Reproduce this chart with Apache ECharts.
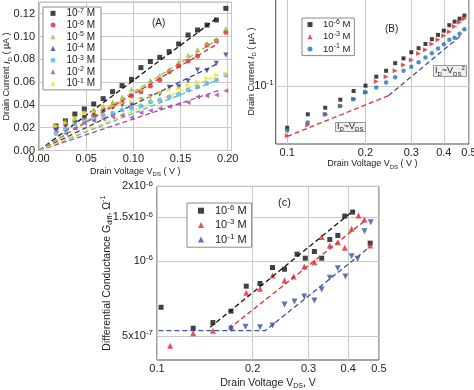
<!DOCTYPE html>
<html><head><meta charset="utf-8">
<script src="https://cdn.jsdelivr.net/npm/echarts@6/dist/echarts.min.js"></script>
<style>html,body{margin:0;padding:0;background:#fff}#c{width:474px;height:390px}</style>
</head><body><div id="c"></div>
<script>
// ---------------- Panel A data ----------------
const vdsA = [0.018,0.028,0.038,0.048,0.058,0.068,0.078,0.088,0.098,0.108,0.118,0.128,0.138,0.148,0.158,0.168,0.178,0.188,0.198];
const idA_1e7 = [0.0215,0.026,0.032,0.0364,0.0408,0.0455,0.0516,0.0569,0.0624,0.0727,0.078,0.0817,0.0867,0.0934,0.1013,0.1057,0.1100,0.1145,0.1247];
const idA_1e6 = [0.020,0.023,0.026,0.029,0.031,0.0355,0.0385,0.042,0.048,0.0516,0.0566,0.0618,0.069,0.0744,0.0785,0.083,0.0925,0.0963,0.1037];
const idA_1e5 = [0.0215,0.026,0.029,0.034,0.036,0.039,0.0428,0.047,0.0537,0.0537,0.0618,0.066,0.0712,0.078,0.0838,0.0887,0.094,0.0975,0.107];
const idA_1e4 = [0.018,0.0215,0.0244,0.029,0.0326,0.0355,0.038,0.040,0.040,0.0443,0.0472,0.0496,0.0554,0.056,0.061,0.0706,0.070,0.0765,0.0838];
const idA_1e3 = [0.015,0.0186,0.0232,0.0262,0.028,0.031,0.0326,0.0355,0.037,0.039,0.0428,0.0443,0.0472,0.0493,0.053,0.056,0.0589,0.0618,0.0662];
const idA_1e2 = [0.0175,0.015,0.0195,0.0238,0.026,0.0276,0.0297,0.031,0.029,0.0332,0.035,0.037,0.0385,0.0408,0.042,0.0472,0.0478,0.0487,0.0525];
const idA_1e1 = [0.0215,0.0238,0.0273,0.0326,0.034,0.0375,0.039,0.0414,0.0428,0.0449,0.0472,0.0507,0.053,0.0545,0.0575,0.0604,0.0633,0.0662,0.067];
const fitVA = [0, 0.19];
const fitA_1e7 = [0, 0.117];
const fitA_1e6 = [0, 0.094];
const fitA_1e5 = [0, 0.0975];
const fitA_1e4 = [0, 0.0765];
const fitA_1e3 = [0, 0.062];
const fitA_1e2 = [0, 0.0525];
const fitA_1e1 = [0, 0.066];

// ---------------- Panel B data ----------------
const vdsB = [0.10,0.12,0.14,0.16,0.18,0.20,0.22,0.24,0.26,0.28,0.30,0.32,0.34,0.36,0.38,0.40,0.42,0.44,0.46,0.48];
const idB_1e6 = [0.0404,0.0541,0.0624,0.0743,0.0897,0.1007,0.1224,0.139,0.164,0.182,0.208,0.227,0.249,0.276,0.303,0.332,0.374,0.404,0.431,0.461];
const idB_1e3 = [0.034,0.0429,0.0541,0.0648,0.0754,0.0872,0.110,0.122,0.139,0.158,0.176,0.202,0.220,0.249,0.272,0.298,0.325,0.363,0.399,0.429];
const idB_1e1 = [0.038,0.0454,0.0541,0.0648,0.075,0.0872,0.097,0.108,0.121,0.139,0.152,0.167,0.186,0.203,0.225,0.247,0.272,0.285,0.311,0.343];
const ohmV = [0.10, 0.245];
const ohmI = [0.0335, 0.081];
const sqV = [0.245, 0.47];
const sqI = [0.081, 0.305];
const xTicksB = [0.1, 0.2, 0.3, 0.4, 0.5];
const yTicksB = [0.1];

// ---------------- Panel C data ----------------
const vdsC_1e6 = [0.103,0.130,0.150,0.171,0.191,0.211,0.231,0.252,0.276,0.293,0.313,0.330,0.350,0.371,0.390,0.413,0.469];
const gC_1e6 = [6.52e-7,5.37e-7,5.66e-7,6.29e-7,7.93e-7,8.13e-7,9.43e-7,9.28e-7,1.067e-6,1.028e-6,1.094e-6,1.028e-6,1.223e-6,1.269e-6,1.519e-6,1.576e-6,1.182e-6];
const vdsC_1e3 = [0.110,0.130,0.150,0.171,0.191,0.211,0.231,0.252,0.269,0.291,0.313,0.330,0.350,0.371,0.390,0.410,0.431,0.450,0.469];
const gC_1e3 = [4.57e-7,5.13e-7,5.24e-7,5.45e-7,7.46e-7,7.74e-7,8.76e-7,8.36e-7,8.68e-7,9.52e-7,9.91e-7,1.25e-6,1.157e-6,1.193e-6,1.132e-6,1.351e-6,1.528e-6,1.472e-6,1.157e-6];
const vdsC_1e1 = [0.171,0.190,0.211,0.231,0.252,0.271,0.291,0.313,0.330,0.350,0.371,0.392,0.410,0.428,0.450,0.471];
const gC_1e1 = [5.34e-7,5.45e-7,5.42e-7,5.51e-7,6.69e-7,6.88e-7,7.21e-7,6.94e-7,7.69e-7,8.57e-7,9.37e-7,8.68e-7,1.047e-6,1.022e-6,1.321e-6,1.436e-6];
const fitVC_1e6 = [0.147, 0.416];
const fitGC_1e6 = [5.42e-7, 1.6e-6];
const fitVC_1e3 = [0.176, 0.453];
const fitGC_1e3 = [5.59e-7, 1.46e-6];
const fitVC_1e1 = [0.101, 0.219, 0.467];
const fitGC_1e1 = [5.25e-7, 5.25e-7, 1.14e-6];
const xTicksC = [0.1, 0.2, 0.3, 0.4, 0.5];
const yTicksC = [5e-7, 1e-6, 1.5e-6, 2e-6];
const yTickLabelsC = ['{n|5x10}{sup|-7}', '{n|10}{sup|-6}', '{n|1.5x10}{sup|-6}', '{n|2x10}{sup|-6}'];

// ---------------- helpers ----------------
const FONT = '"Liberation Sans", Arial, sans-serif';
const TXT = '#222';
function rich(fs, lh, gap) {
  lh = lh || Math.round(fs * 1.35);
  const s = Math.max(6, Math.round(fs * 0.7));
  return {
    n: {fontSize: fs, lineHeight: lh, fontFamily: FONT, color: TXT},
    it: {fontSize: fs, lineHeight: lh, fontFamily: FONT, fontStyle: 'italic', color: TXT},
    sup: {fontSize: s, lineHeight: lh, verticalAlign: 'top', fontFamily: FONT, color: TXT},
    sub: {fontSize: s, lineHeight: lh, verticalAlign: 'bottom', fontFamily: FONT, color: TXT},
    g: {width: gap || 0, lineHeight: lh, fontSize: fs}
  };
}
const zip = (xs, ys) => xs.map((x, i) => [x, ys[i]]);
const near = (arr, v) => arr.findIndex(t => Math.abs(v - t) <= Math.abs(t) * 1e-3 + 1e-12);
const concLabel = {
  '1e-7': '{n|10}{sup|-7}{n| M}', '1e-6': '{n|10}{sup|-6}{n| M}', '1e-5': '{n|10}{sup|-5}{n| M}',
  '1e-4': '{n|10}{sup|-4}{n| M}', '1e-3': '{n|10}{sup|-3}{n| M}', '1e-2': '{n|10}{sup|-2}{n| M}',
  '1e-1': '{n|10}{sup|-1}{n| M}'
};
const GRIDC = '#c9c9c9';
const FRAME = '#4a4a4a';

const colA = {'1e-7':'#111111','1e-6':'#e5262b','1e-5':'#8cc04a','1e-4':'#2c3a8c','1e-3':'#56b4e0','1e-2':'#a64ea6','1e-1':'#f0e31a'};
const symA = {'1e-7':['rect',0],'1e-6':['circle',0],'1e-5':['triangle',0],'1e-4':['triangle',180],'1e-3':['circle',0],'1e-2':['triangle',90],'1e-1':['triangle',-90]};
const dataA = {'1e-7':idA_1e7,'1e-6':idA_1e6,'1e-5':idA_1e5,'1e-4':idA_1e4,'1e-3':idA_1e3,'1e-2':idA_1e2,'1e-1':idA_1e1};
const fitA = {'1e-7':fitA_1e7,'1e-6':fitA_1e6,'1e-5':fitA_1e5,'1e-4':fitA_1e4,'1e-3':fitA_1e3,'1e-2':fitA_1e2,'1e-1':fitA_1e1};
const namesA = ['1e-7','1e-6','1e-5','1e-4','1e-3','1e-2','1e-1'];

const series = [];
namesA.forEach(k => {
  series.push({type:'line', name:'fitA'+k, xAxisIndex:0, yAxisIndex:0, data: zip(fitVA, fitA[k]),
    symbol:'none', silent:true, z:1, lineStyle:{color:colA[k], width:1.3, type:[5,3]}});
});
namesA.forEach(k => {
  series.push({type:'scatter', name:k, xAxisIndex:0, yAxisIndex:0, data: zip(vdsA, dataA[k]),
    symbol:symA[k][0], symbolRotate:symA[k][1], symbolSize:5, z:3, itemStyle:{color:colA[k]}});
});
// Panel B
series.push({type:'line', name:'ohm', xAxisIndex:1, yAxisIndex:1, data: zip(ohmV, ohmI), symbol:'none', silent:true,
  lineStyle:{color:'#e5313a', width:1.3, type:[5,3]}});
series.push({type:'line', name:'sq', xAxisIndex:1, yAxisIndex:1, data: zip(sqV, sqI), symbol:'none', silent:true,
  lineStyle:{color:'#3b4fa0', width:1.3, type:[5,3]}});
series.push({type:'scatter', name:'B1e-6', xAxisIndex:1, yAxisIndex:1, data: zip(vdsB, idB_1e6), symbol:'rect', symbolSize:4, itemStyle:{color:'#111'}});
series.push({type:'scatter', name:'B1e-3', xAxisIndex:1, yAxisIndex:1, data: zip(vdsB, idB_1e3), symbol:'triangle', symbolRotate:-90, symbolSize:5, itemStyle:{color:'#e5262b'}});
series.push({type:'scatter', name:'B1e-1', xAxisIndex:1, yAxisIndex:1, data: zip(vdsB, idB_1e1), symbol:'circle', symbolSize:4.5, itemStyle:{color:'#2474b0'}});
// Panel C
series.push({type:'line', name:'fc6', xAxisIndex:2, yAxisIndex:2, data: zip(fitVC_1e6, fitGC_1e6), symbol:'none', silent:true, lineStyle:{color:'#111', width:1.3, type:[5,3]}});
series.push({type:'line', name:'fc3', xAxisIndex:2, yAxisIndex:2, data: zip(fitVC_1e3, fitGC_1e3), symbol:'none', silent:true, lineStyle:{color:'#e5262b', width:1.3, type:[5,3]}});
series.push({type:'line', name:'fc1', xAxisIndex:2, yAxisIndex:2, data: zip(fitVC_1e1, fitGC_1e1), symbol:'none', silent:true, lineStyle:{color:'#3b4fa0', width:1.3, type:[5,3]}});
series.push({type:'scatter', name:'C1e-6', xAxisIndex:2, yAxisIndex:2, data: zip(vdsC_1e6, gC_1e6), symbol:'rect', symbolSize:5, itemStyle:{color:'#111'}});
series.push({type:'scatter', name:'C1e-3', xAxisIndex:2, yAxisIndex:2, data: zip(vdsC_1e3, gC_1e3), symbol:'triangle', symbolSize:6, itemStyle:{color:'#e5262b'}});
series.push({type:'scatter', name:'C1e-1', xAxisIndex:2, yAxisIndex:2, data: zip(vdsC_1e1, gC_1e1), symbol:'triangle', symbolRotate:180, symbolSize:6, itemStyle:{color:'#3b4fa0'}});

const tickLbl = (fs) => ({fontFamily: FONT, fontSize: fs, color: TXT});
const frameGrid = (o) => Object.assign({show:true, borderColor:FRAME, borderWidth:1, backgroundColor:'#fff',
  containLabel:false, outerBoundsMode:'none'}, o);
const legendBase = {orient:'vertical', itemGap:0, borderColor:'#8a8a8a', borderWidth:1, backgroundColor:'#fff',
  symbolRotate:'inherit', itemStyle:{borderWidth:0}};

const option = {
  animation: false,
  grid: [
    frameGrid({left:39, top:2.3, width:192.5, height:148.2}),
    frameGrid({left:275.7, top:-1, width:193.3, height:145}),
    frameGrid({left:157, top:186.4, width:222, height:173.6})
  ],
  xAxis: [
    {type:'value', gridIndex:0, min:0, max:0.204, interval:0.05,
     axisLine:{show:false}, axisTick:{show:false},
     axisLabel:Object.assign(tickLbl(11), {margin:3, showMaxLabel:false, formatter: v => v.toFixed(2)}),
     splitLine:{show:true, lineStyle:{color:GRIDC}},
     name:'{n|Drain Voltage V}{sub|DS}{n| ( V )}', nameLocation:'middle', nameGap:15, nameMoveOverlap:false,
     nameTextStyle:{rich: rich(9, 12)}},
    {type:'log', gridIndex:1, min:0.0903, max:0.5,
     axisLine:{show:false}, axisTick:{show:false, customValues:xTicksB},
     axisLabel:Object.assign(tickLbl(11), {margin:3, customValues:xTicksB, formatter: v => String(Math.round(v*10)/10)}),
     splitLine:{show:true, lineStyle:{color:GRIDC}},
     name:'{n|Drain Voltage V}{sub|DS}{n| ( V )}', nameLocation:'middle', nameGap:14, nameMoveOverlap:false,
     nameTextStyle:{rich: rich(9, 12)}},
    {type:'log', gridIndex:2, min:0.1, max:0.5,
     axisLine:{show:false}, axisTick:{show:false, customValues:xTicksC},
     axisLabel:Object.assign(tickLbl(11), {margin:3, customValues:xTicksC, formatter: v => String(Math.round(v*10)/10)}),
     splitLine:{show:true, lineStyle:{color:GRIDC}},
     name:'{n|Drain Voltage V}{sub|DS}{n|, V}', nameLocation:'middle', nameGap:16, nameMoveOverlap:false,
     nameTextStyle:{rich: rich(10.5, 14)}}
  ],
  yAxis: [
    {type:'value', gridIndex:0, min:0, max:0.13, interval:0.02,
     axisLine:{show:false}, axisTick:{show:false},
     axisLabel:Object.assign(tickLbl(11), {margin:4, showMaxLabel:false, formatter: v => v.toFixed(2)}),
     splitLine:{show:true, lineStyle:{color:GRIDC}},
     name:'{n|Drain Current }{it|I}{sub|D}{n| ( µA )}', nameLocation:'middle', nameGap:26, nameMoveOverlap:false,
     nameTextStyle:{rich: rich(9, 12)}},
    {type:'log', gridIndex:1, min:0.0284, max:0.66,
     axisLine:{show:false}, axisTick:{show:false, customValues:yTicksB},
     axisLabel:{fontFamily:FONT, fontSize:11, color:TXT, margin:2, customValues:yTicksB,
       formatter: v => '{n|10}{sup|-1}', rich: rich(11, 14)},
     splitLine:{show:true, lineStyle:{color:GRIDC}},
     name:'{n|Drain Current }{it|I}{sub|D}{n| ( µA )}', nameLocation:'middle', nameGap:18, nameMoveOverlap:false,
     nameTextStyle:{rich: rich(9, 12)}},
    {type:'log', gridIndex:2, min:4e-7, max:2e-6,
     axisLine:{show:false}, axisTick:{show:false, customValues:yTicksC},
     axisLabel:{fontFamily:FONT, fontSize:11, color:TXT, margin:4, customValues:yTicksC,
       formatter: v => { const i = near(yTicksC, v); return i >= 0 ? yTickLabelsC[i] : ''; }, rich: rich(11, 14)},
     splitLine:{show:true, lineStyle:{color:GRIDC}},
     name:'{n|Differential Conductance G}{sub|diff}{n|, Ω}{sup|-1}', nameLocation:'middle', nameGap:43, nameMoveOverlap:false,
     nameTextStyle:{rich: rich(10.5, 14)}}
  ],
  legend: [
    Object.assign({}, legendBase, {data: namesA, left:43, top:7, itemWidth:5, itemHeight:5,
     padding:[0.5,6,0.5,7.5],
     formatter: n => '{g|}' + concLabel[n], textStyle:{fontFamily:FONT, fontSize:10, lineHeight:11.7, rich: rich(10, 11.7, 6)}}),
    Object.assign({}, legendBase, {data: ['B1e-6','B1e-3','B1e-1'], left:302, top:18, itemWidth:5, itemHeight:5,
     padding:[0.5,4,0.5,5.5],
     formatter: n => '{g|}' + concLabel[n.slice(1)], textStyle:{fontFamily:FONT, fontSize:9.5, lineHeight:12.2, rich: rich(9.5, 12.2, 5.5)}}),
    Object.assign({}, legendBase, {data: ['C1e-6','C1e-3','C1e-1'], left:187, top:203, itemWidth:6, itemHeight:6,
     padding:[0.5,5,0.5,11],
     formatter: n => '{g|}' + concLabel[n.slice(1)], textStyle:{fontFamily:FONT, fontSize:11, lineHeight:14.4, rich: rich(11, 14.4, 6)}})
  ],
  title: [
    {text:'(A)', left:152, top:18, padding:0, textStyle:{fontFamily:FONT, fontSize:10, fontWeight:'normal', color:TXT}},
    {text:'(B)', left:385, top:24, padding:0, textStyle:{fontFamily:FONT, fontSize:10, fontWeight:'normal', color:TXT}},
    {text:'(c)', left:278, top:197, padding:0, textStyle:{fontFamily:FONT, fontSize:11, fontWeight:'normal', color:TXT}},
    {text:'{n|I}{sub|D}{n|~V}{sub|DS}', left:335, top:121, padding:[0,2,0,2], borderColor:'#9a9a9a', borderWidth:1, backgroundColor:'#eeeeee',
     textStyle:{fontWeight:'normal', rich: rich(9, 11)}},
    {text:'{n|I}{sub|D}{n|~V}{sub|DS}{sup|2}', left:433, top:65, padding:[0,2,0,2], borderColor:'#9a9a9a', borderWidth:1, backgroundColor:'#eeeeee',
     textStyle:{fontWeight:'normal', rich: rich(9, 12)}}
  ],
  series: series
};
const chart = echarts.init(document.getElementById('c'), null, {renderer:'canvas'});
chart.setOption(option);
</script>
</body></html>
